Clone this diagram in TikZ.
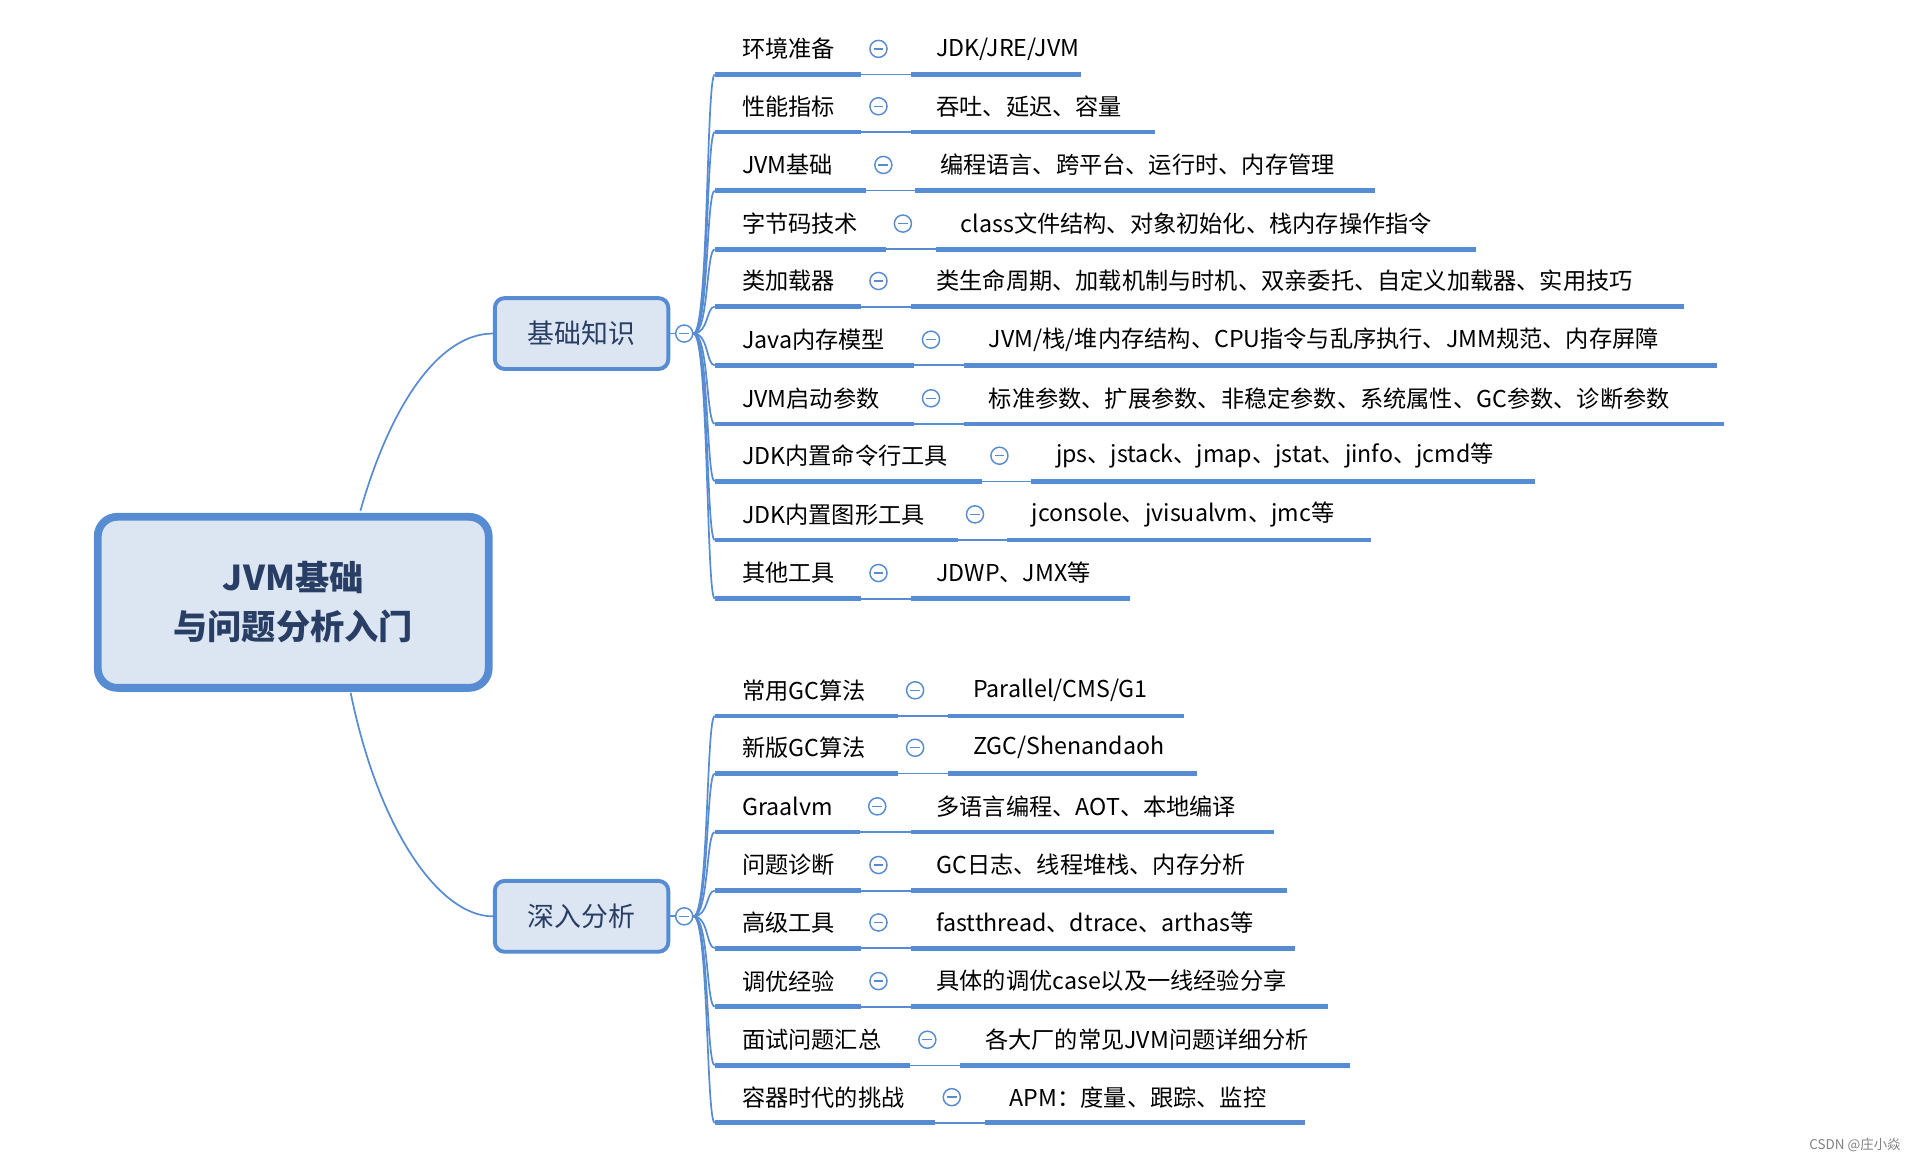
\documentclass[tikz,border=0pt]{standalone}
\usepackage{fontspec}
\setmainfont{Noto Sans CJK SC}
\definecolor{lb}{RGB}{88,140,210}
\definecolor{fillb}{RGB}{220,229,242}
\definecolor{dk}{RGB}{40,62,100}
\begin{document}
\begin{tikzpicture}[x=0.5pt,y=-0.5pt,
  lbl/.style={anchor=west,inner sep=0pt,font=\fontsize{9.5pt}{11pt}\selectfont},
  thk/.style={draw=lb,line width=2pt},
  thn/.style={draw=lb,line width=0.7pt},
  icon/.style={circle,draw=lb,line width=0.6pt,minimum size=7pt,inner sep=0pt},
  hub/.style={draw=lb,fill=fillb,line width=1.6pt,rounded corners=4pt,minimum width=71pt,minimum height=29pt,font=\fontsize{11pt}{13pt}\selectfont,text=dk}]
\useasboundingbox (0,0) rectangle (1560,946);
\node[draw=lb,fill=fillb,line width=3.2pt,rounded corners=8pt,minimum width=160pt,minimum height=70pt,align=center,text=dk,font=\fontsize{14pt}{20pt}\selectfont\bfseries] (root) at (240,493) {JVM基础\\与问题分析入门};
\node[hub] (h1) at (476,273) {基础知识};
\node[hub] (h2) at (476,750) {深入分析};
\node[icon] (c1) at (560,273) {};
\node[icon] (c2) at (560,750) {};
\foreach \c in {c1,c2} \draw[lb,line width=0.6pt] ([xshift=-2pt]\c.center) -- ([xshift=2pt]\c.center);
\draw[thn] (295,418) .. controls (320,330) and (360,273) .. (h1.west);
\draw[thn] (287,567) .. controls (310,680) and (360,750) .. (h2.west);
\draw[thn] (h1.east) -- (c1.west);
\draw[thn] (h2.east) -- (c2.west);
\foreach \y/\t/\le/\cx/\tx/\d/\de [count=\i] in {
 40/环境准备/705/719/766/{JDK/JRE/JVM}/885,
 87/性能指标/705/719/766/{吞吐、延迟、容量}/945,
 135/JVM基础/709/723/769/{编程语言、跨平台、运行时、内存管理}/1125,
 183/字节码技术/725/739/786/{class文件结构、对象初始化、栈内存操作指令}/1208,
 230/类加载器/705/719/766/{类生命周期、加载机制与时机、双亲委托、自定义加载器、实用技巧}/1378,
 278/Java内存模型/748/762/809/{JVM/栈/堆内存结构、CPU指令与乱序执行、JMM规范、内存屏障}/1405,
 326/JVM启动参数/748/762/809/{标准参数、扩展参数、非稳定参数、系统属性、GC参数、诊断参数}/1411,
 373/JDK内置命令行工具/804/818/864/{jps、jstack、jmap、jstat、jinfo、jcmd等}/1256,
 421/JDK内置图形工具/784/798/844/{jconsole、jvisualvm、jmc等}/1122,
 469/其他工具/705/719/766/{JDWP、JMX等}/925}{
 \node[lbl] (a\i) at (607,\y) {\t};
 \node[lbl] (b\i) at (\tx,\y) {\d};
 \node[icon] (i\i) at (\cx,\y) {};
 \draw[lb,line width=0.6pt] ([xshift=-2pt]i\i.center) -- ([xshift=2pt]i\i.center);
 \coordinate (p\i) at (585,\y+21);
 \coordinate (q\i) at (\le,\y+21);
 \coordinate (r\i) at (\tx-20,\y+21);
 \coordinate (s\i) at (\de,\y+21);
 \draw[thk] (p\i) -- (q\i);
 \draw[thn] (q\i) -- (r\i);
 \draw[thk] (r\i) -- (s\i);
 \draw[thn] (c1.east) .. controls (580,273) and (578,\y+21) .. (p\i);
}
\foreach \y/\t/\cx/\tx/\d/\de [count=\i] in {
 565/常用GC算法/749/796/{Parallel/CMS/G1}/969,
 612/新版GC算法/749/796/{ZGC/Shenandaoh}/980,
 660/Graalvm/718/766/{多语言编程、AOT、本地编译}/1043,
 708/问题诊断/719/766/{GC日志、线程堆栈、内存分析}/1053,
 755/高级工具/719/766/{fastthread、dtrace、arthas等}/1060,
 803/调优经验/719/766/{具体的调优case以及一线经验分享}/1087,
 851/面试问题汇总/759/806/{各大厂的常见JVM问题详细分析}/1105,
 898/容器时代的挑战/779/826/{APM：度量、跟踪、监控}/1068}{
 \node[lbl] (e\i) at (607,\y) {\t};
 \node[lbl] (f\i) at (\tx,\y) {\d};
 \node[icon] (j\i) at (\cx,\y) {};
 \draw[lb,line width=0.6pt] ([xshift=-2pt]j\i.center) -- ([xshift=2pt]j\i.center);
 \coordinate (u\i) at (585,\y+21);
 \coordinate (v\i) at (\cx-14,\y+21);
 \coordinate (w\i) at (\tx-20,\y+21);
 \coordinate (z\i) at (\de,\y+21);
 \draw[thk] (u\i) -- (v\i);
 \draw[thn] (v\i) -- (w\i);
 \draw[thk] (w\i) -- (z\i);
 \draw[thn] (c2.east) .. controls (580,750) and (578,\y+21) .. (u\i);
}
\node[anchor=east,inner sep=0pt,text=gray,font=\fontsize{5.5pt}{6pt}\selectfont] (wm) at (1556,937) {CSDN @庄小焱};
\end{tikzpicture}
\end{document}
